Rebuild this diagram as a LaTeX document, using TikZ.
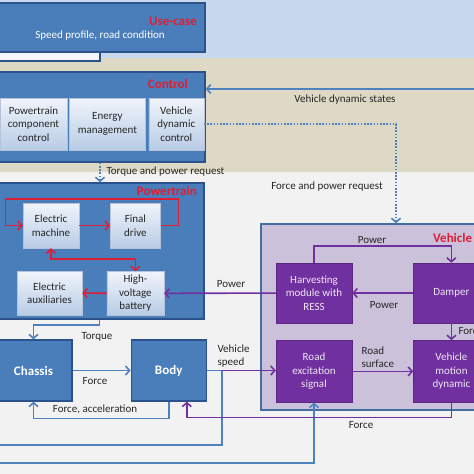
\documentclass[tikz,border=0pt]{standalone}
\usepackage{fontspec}
\setmainfont{Carlito}
\usetikzlibrary{arrows.meta,positioning,calc}
\definecolor{ucblue}{RGB}{74,126,187}
\definecolor{ucborder}{RGB}{44,82,140}
\definecolor{subtop}{RGB}{240,244,251}
\definecolor{subbot}{RGB}{184,204,230}
\definecolor{linkblue}{RGB}{79,129,189}
\definecolor{hpurple}{RGB}{112,48,160}
\definecolor{vehfill}{RGB}{204,193,218}
\definecolor{titlered}{RGB}{222,30,52}
\definecolor{bgblue}{RGB}{200,217,238}
\definecolor{bgtan}{RGB}{221,217,196}
\definecolor{bggrey}{RGB}{242,242,242}
\tikzstyle{group} = [rectangle, draw=ucborder, fill=ucblue, line width=1.4pt]
\tikzstyle{subblock} = [rectangle, draw=ucborder!35, top color=subtop, bottom color=subbot, align=center, font=\fontsize{11}{13.5}\selectfont, text=black!85]
\tikzstyle{mainblock} = [rectangle, draw=ucborder, fill=ucblue, line width=1.2pt, font=\fontsize{13}{15}\selectfont\bfseries, text=white]
\tikzstyle{vehgroup} = [rectangle, draw=linkblue!85!black, fill=vehfill, line width=1.4pt]
\tikzstyle{harvblock} = [rectangle, draw=hpurple!80!black, fill=hpurple, align=center, font=\fontsize{11}{13.5}\selectfont, text=white!88!hpurple]
\tikzstyle{grouptitle} = [font=\fontsize{13}{15}\selectfont\bfseries, text=titlered, inner sep=0pt]
\tikzstyle{lbl} = [font=\fontsize{11}{13}\selectfont, text=black!85, align=left]
\tikzstyle{blueline} = [line width=1.6pt, draw=linkblue]
\tikzstyle{bluearrow} = [line width=1.6pt, draw=linkblue, ->]
\tikzstyle{bluedot} = [line width=1.6pt, draw=linkblue, dash pattern=on 1.6pt off 1.6pt, ->]
\tikzstyle{redarrow} = [line width=1.6pt, draw=titlered, ->]
\tikzstyle{purplearrow} = [line width=1.6pt, draw=hpurple, ->]

\begin{document}
\begin{tikzpicture}[x=1pt, y=1pt, >={Straight Barb[length=4pt,width=9pt]}]
\useasboundingbox (0,0) rectangle (474,-474);
% Background bands
\fill[bgblue] (0,0) rectangle (474,-58);
\fill[bgtan] (0,-58) rectangle (474,-172);
\fill[bggrey] (0,-172) rectangle (474,-474);

% Use-case and control
\draw[draw=ucborder, fill=white!80!bgblue, line width=1.2pt] (-5,-52) rectangle (100,-61);
\node (usecase) [group, minimum width=210pt, minimum height=49pt] at (100,-27.5) {};
\node (usecasetitle) [grouptitle, anchor=east] at (197,-21) {Use-case};
\node (usecasetext) [lbl, text=white] at (100,-36) {Speed profile, road condition};
\node (control) [group, minimum width=210pt, minimum height=90pt] at (100,-117) {};
\node (controltitle) [grouptitle, anchor=east] at (188,-84) {Control};
\node (pcc) [subblock, minimum width=67pt, minimum height=52pt] at (33.5,-124) {Powertrain\\component\\control};
\node (energy) [subblock, minimum width=76pt, minimum height=52pt, right=2pt of pcc] {Energy\\management};
\node (vdc) [subblock, minimum width=55pt, minimum height=52pt, right=3pt of energy] {Vehicle\\dynamic\\control};

% Powertrain
\node (powertrain) [group, minimum width=209pt, minimum height=136pt] at (99.5,-251) {};
\node (powertraintitle) [grouptitle, anchor=east] at (197,-191) {Powertrain};
\node (machine) [subblock, minimum width=56pt, minimum height=45pt] at (51,-225.5) {Electric\\machine};
\node (finaldrive) [subblock, minimum width=50pt, minimum height=45pt, right=31pt of machine] {Final\\drive};
\node (aux) [subblock, minimum width=65pt, minimum height=44pt] at (49.5,-293) {Electric\\auxiliaries};
\node (battery) [subblock, minimum width=57pt, minimum height=44pt, below=23pt of finaldrive] {High-\\voltage\\battery};

% Chassis and body
\node (chassis) [mainblock, minimum width=77pt, minimum height=61pt] at (33.5,-370.5) {Chassis};
\node (body) [mainblock, minimum width=75pt, minimum height=61pt, right=58pt of chassis] {Body};

% Vehicle
\node (vehicle) [vehgroup, minimum width=219pt, minimum height=186pt] at (370.5,-317) {};
\node (vehicletitle) [grouptitle, anchor=west] at (433,-238) {Vehicle};
\node (harvest) [harvblock, minimum width=76pt, minimum height=60pt] at (314,-293) {Harvesting\\module with\\RESS};
\node (damper) [harvblock, minimum width=76pt, minimum height=60pt, right=61pt of harvest] {Damper};
\node (road) [harvblock, minimum width=76pt, minimum height=62pt, below=17pt of harvest] {Road\\excitation\\signal};
\node (motion) [harvblock, minimum width=76pt, minimum height=62pt, right=61pt of road] {Vehicle\\motion\\dynamic};

% Free ends
\coordinate (vdsin) at (480,-89);
\coordinate (vsplit) at (222,-370.5);
\coordinate (speedout) at (-5,-445);
\coordinate (roadin) at (-5,-463);

% Arrows
\draw[bluearrow] (vdsin) -- (vdsin -| control.east);
\draw[bluedot] (vdc.east) -| ([xshift=25.5pt]vehicle.north);
\draw[bluedot] (control.south) -- (control.south |- powertrain.north);
\draw[redarrow] (machine) -- (finaldrive);
\draw[redarrow] (finaldrive.east) -- ++(18,0) -- ++(0,26.5) -- ++(-173,0) -- ++(0,-26.5) -- (machine.west);
\draw[redarrow, <->] (machine.south) -- ++(0,-11) -| (battery.north);
\draw[redarrow] (battery) -- (aux);
\draw[purplearrow] (harvest) -- (battery);
\draw[bluearrow] (powertrain.south) -- ++(0,-5) -| (chassis.north);
\draw[bluearrow] (chassis) -- (body);
\draw[bluearrow] (body.south) -- ++(0,-17) -| (chassis.south);
\draw[blueline] (body.east) -- (vsplit) |- (speedout);
\draw[purplearrow] (vsplit) -- (vsplit -| road.west);
\draw[bluearrow] (roadin) -| (road.south);
\draw[purplearrow] (harvest.north) -- ++(0,17) -| (damper.north);
\draw[purplearrow] (damper) -- (harvest);
\draw[purplearrow] (damper) -- (motion);
\draw[purplearrow] (road) -- (motion);
\draw[purplearrow] (motion.south) -- ++(0,-15) -| ([xshift=-20pt]body.south east);

% Labels
\node (lvds) [lbl] at (345,-100) {Vehicle dynamic states};
\node (lfpr) [lbl] at (327,-187) {Force and power request};
\node (ltpr) [lbl, anchor=west] at (103,-172) {Torque and power request};
\node (lpowerhv) [lbl] at (231,-284) {Power};
\node (ltorque) [lbl] at (97,-337) {Torque};
\node (lspeed) [lbl, anchor=west] at (214,-356.5) {Vehicle\\speed};
\node (lforcecb) [lbl] at (95,-381) {Force};
\node (lforceacc) [lbl] at (95,-409) {Force, acceleration};
\node (lpowertop) [lbl] at (372,-240) {Power};
\node (lpowermid) [lbl] at (384,-305) {Power};
\node (lforcedm) [lbl, anchor=west] at (455,-331) {Force};
\node (lsurface) [lbl, anchor=west] at (358,-357.5) {Road\\surface};
\node (lforcebot) [lbl] at (361,-425) {Force};
\end{tikzpicture}
\end{document}
